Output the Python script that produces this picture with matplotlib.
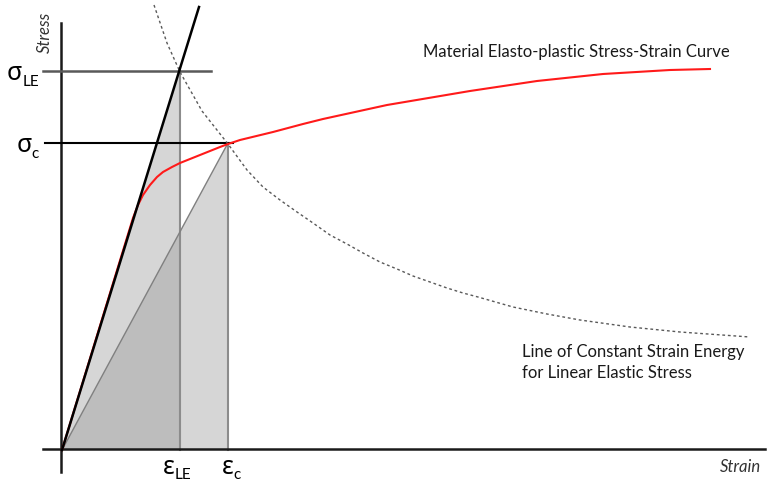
import matplotlib.pyplot as plt

# stress-strain diagram, units are arbitrary (strain along x, stress along y)
eps_le, sig_le = 118, 379
eps_c, sig_c = 166, 307
elastic_end = (137, 443)

# elasto-plastic curve
red_eps = [0, 71, 76, 81, 88, 95, 101, 110, 118, 128, 138, 148, 158, 166, 178,
           211, 241, 261, 325, 408, 475, 541, 608, 648]
red_sig = [0, 232, 245, 255, 265, 273, 278, 283, 287, 291, 295, 299, 303, 306, 310,
           318, 326, 331, 345, 359, 369, 376, 380, 381]

# line of constant strain energy
en_eps = [92, 105, 118, 140, 166, 185, 201, 218, 235, 251, 268, 285, 301, 318, 335,
          351, 368, 385, 401, 416, 451, 485, 518, 568, 618, 688]
en_sig = [445, 407, 378, 339, 306, 280, 263, 250, 238, 227, 215, 206, 197, 188, 181,
          174, 168, 162, 157, 153, 143, 136, 130, 123, 118, 113]

fnt = ['Lato', 'DejaVu Sans']
greek = ['Noto Sans', 'DejaVu Sans']

fig = plt.figure(figsize=(7.68, 4.87), dpi=100)
ax = fig.add_axes([0, 0, 1, 1])
ax.set_xlim(-62, 706)
ax.set_ylim(-37, 450)
ax.axis('off')

# shaded triangles
ax.fill([0, eps_le, eps_le], [0, sig_le, 0], color='#d6d6d6', lw=0, zorder=1)
ax.fill([0, eps_c, eps_c], [0, sig_c, 0], color='#d6d6d6', lw=0, zorder=1)
ax.fill([0, eps_le, eps_le], [0, sig_c / eps_c * eps_le, 0], color='#bdbdbd', lw=0, zorder=1)

ax.plot([eps_le, eps_le], [0, sig_le], color='#8c8c8c', lw=1.5, zorder=2)
ax.plot([eps_c, eps_c], [0, sig_c], color='#8c8c8c', lw=1.5, zorder=2)
ax.plot([0, eps_c], [0, sig_c], color='#808080', lw=1.0, zorder=2)

# axes
ax.plot([-1, -1], [-22, 427], color='#1a1a1a', lw=1.8, zorder=3)
ax.plot([-19, 703], [1, 1], color='#1a1a1a', lw=1.8, zorder=3)

# stress levels
ax.plot([-19, 149], [sig_le, sig_le], color='#595959', lw=1.8, zorder=3)
ax.plot([-17, 171], [sig_c, sig_c], color='black', lw=1.5, zorder=3)

ax.plot(en_eps, en_sig, color='#595959', lw=1.0, ls=(0, (2, 2)), zorder=4)
ax.plot(red_eps, red_sig, color='#ff1a1a', lw=1.5, zorder=4, solid_joinstyle='round')
ax.plot([0, elastic_end[0]], [0, elastic_end[1]], color='black', lw=1.8, zorder=5)

# labels
ax.text(-55, 376, 'σ', family=greek, fontsize=18, ha='left', va='center')
ax.text(-39, 368, 'LE', family=fnt, fontsize=11, ha='left', va='center')
ax.text(-45, 305, 'σ', family=greek, fontsize=18, ha='left', va='center')
ax.text(-31, 296, 'c', family=fnt, fontsize=11, ha='left', va='center')
ax.text(101, -17, 'ε', family=greek, fontsize=18, ha='left', va='center')
ax.text(113, -25, 'LE', family=fnt, fontsize=11, ha='left', va='center')
ax.text(160, -17, 'ε', family=greek, fontsize=18, ha='left', va='center')
ax.text(171, -25, 'c', family=fnt, fontsize=11, ha='left', va='center')

ax.text(-17, 418, 'Stress', family=fnt, style='italic', fontsize=12, rotation=90,
        ha='center', va='center', color='#333333')
ax.text(678, -17, 'Strain', family=fnt, style='italic', fontsize=12,
        ha='center', va='center', color='#333333')

ax.text(361, 398, 'Material Elasto-plastic Stress-Strain Curve', family=fnt, fontsize=12,
        ha='left', va='center', color='#1a1a1a')
ax.text(460, 98, 'Line of Constant Strain Energy', family=fnt, fontsize=12,
        ha='left', va='center', color='#1a1a1a')
ax.text(460, 77, 'for Linear Elastic Stress', family=fnt, fontsize=12,
        ha='left', va='center', color='#1a1a1a')

plt.savefig('out.png', dpi=100)
